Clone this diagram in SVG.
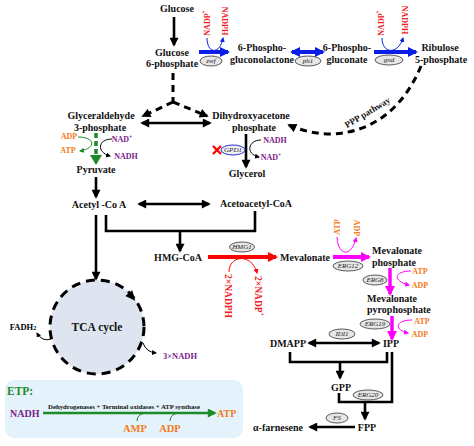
<svg xmlns="http://www.w3.org/2000/svg" width="474" height="446" viewBox="0 0 474 446">
<style>
.t{font-family:"Liberation Serif","Times New Roman",serif;font-weight:bold;font-size:10px;fill:#111;text-anchor:middle}
.ts{font-family:"Liberation Serif","Times New Roman",serif;font-weight:bold;font-size:10px;fill:#111;text-anchor:start}
.c{font-family:"Liberation Serif","Times New Roman",serif;font-weight:bold;font-size:8px;text-anchor:middle}
.rv{dominant-baseline:central}
.red{fill:#ee1c25}.or{fill:#f47a20}.pu{fill:#7b1c8c}.gr{fill:#1e8a2a}
.ell{fill:#e6e6e6;stroke:#333;stroke-width:0.8}
.et{font-family:"Liberation Serif","Times New Roman",serif;font-style:italic;font-size:7px;fill:#222;text-anchor:middle}
.k{stroke:#000;stroke-width:2.6;fill:none}
.kd{stroke:#000;stroke-width:3;fill:none;stroke-dasharray:7,5}
.thin{stroke-width:1;fill:none}
</style>
<defs>
<marker id="ak" viewBox="0 0 10 10" refX="8" refY="5" markerWidth="10" markerHeight="9" markerUnits="userSpaceOnUse" orient="auto-start-reverse"><path d="M0,0 L10,5 L0,10 z" fill="#000"/></marker>
<marker id="ab" viewBox="0 0 10 10" refX="8" refY="5" markerWidth="11" markerHeight="10" markerUnits="userSpaceOnUse" orient="auto-start-reverse"><path d="M0,0 L10,5 L0,10 z" fill="#0a1ee6"/></marker>
<marker id="ar" viewBox="0 0 10 10" refX="8" refY="5" markerWidth="11" markerHeight="10" markerUnits="userSpaceOnUse" orient="auto"><path d="M0,0 L10,5 L0,10 z" fill="#ff0000"/></marker>
<marker id="am" viewBox="0 0 10 10" refX="8" refY="5" markerWidth="11" markerHeight="10" markerUnits="userSpaceOnUse" orient="auto"><path d="M0,0 L10,5 L0,10 z" fill="#ff00ff"/></marker>
<marker id="ag" viewBox="0 0 10 10" refX="8" refY="5" markerWidth="10" markerHeight="9" markerUnits="userSpaceOnUse" orient="auto"><path d="M0,0 L10,5 L0,10 z" fill="#1e8a2a"/></marker>
<marker id="sk" viewBox="0 0 10 10" refX="8" refY="5" markerWidth="5" markerHeight="5" markerUnits="userSpaceOnUse" orient="auto"><path d="M0,0 L10,5 L0,10 z" fill="#000"/></marker>
<marker id="sb" viewBox="0 0 10 10" refX="8" refY="5" markerWidth="5" markerHeight="5" markerUnits="userSpaceOnUse" orient="auto"><path d="M0,0 L10,5 L0,10 z" fill="#0a1ee6"/></marker>
<marker id="sr" viewBox="0 0 10 10" refX="8" refY="5" markerWidth="5" markerHeight="5" markerUnits="userSpaceOnUse" orient="auto"><path d="M0,0 L10,5 L0,10 z" fill="#ff0000"/></marker>
<marker id="sm" viewBox="0 0 10 10" refX="8" refY="5" markerWidth="5" markerHeight="5" markerUnits="userSpaceOnUse" orient="auto"><path d="M0,0 L10,5 L0,10 z" fill="#ff00ff"/></marker>
<marker id="sg" viewBox="0 0 10 10" refX="8" refY="5" markerWidth="5" markerHeight="5" markerUnits="userSpaceOnUse" orient="auto"><path d="M0,0 L10,5 L0,10 z" fill="#1e8a2a"/></marker>
</defs>

<!-- ETP box background -->
<rect x="5" y="380" width="238" height="58" rx="9" fill="#e4f2fb"/>

<!-- TCA circle -->
<g id="tca">
<circle cx="97" cy="327" r="47" fill="#dfe5f0" stroke="#000" stroke-width="3" stroke-dasharray="9,6"/>
<polygon points="-5,-4.5 5,0 -5,4.5" fill="#000" transform="translate(132,297) rotate(50)"/>
<text class="t" x="97" y="331" style="font-size:11.5px">TCA cycle</text>
</g>

<g id="connectors">
<!-- glucose -->
<line class="k" x1="174" y1="17" x2="174" y2="45" marker-end="url(#ak)"/>
<!-- PPP blue -->
<line x1="199" y1="52" x2="228" y2="52" stroke="#0a1ee6" stroke-width="4" marker-end="url(#ab)"/>
<path d="M207,38 C207,54 220,55 223,38" stroke="#0a1ee6" class="thin" marker-end="url(#sb)"/>
<line x1="292" y1="52" x2="323" y2="52" stroke="#0a1ee6" stroke-width="4" marker-start="url(#ab)" marker-end="url(#ab)"/>
<line x1="374" y1="52" x2="416" y2="52" stroke="#0a1ee6" stroke-width="4" marker-end="url(#ab)"/>
<path d="M382,38 C382,54 398,55 403,38" stroke="#0a1ee6" class="thin" marker-end="url(#sb)"/>
<!-- PPP pathway dashed -->
<path class="kd" d="M421,66 C405,105 375,133 330,134 C315,134 300,130 289,125" marker-end="url(#ak)"/>
<!-- glycolysis split -->
<path class="kd" d="M173,73 V102"/>
<path class="kd" d="M173,102 L143,116" marker-end="url(#ak)"/>
<path class="kd" d="M173,102 L207,116" marker-end="url(#ak)"/>
<line class="k" x1="142" y1="123" x2="210" y2="123" marker-start="url(#ak)" marker-end="url(#ak)"/>
<!-- G3P to pyruvate green -->
<line x1="96" y1="133" x2="96" y2="156" stroke="#1e8a2a" stroke-width="3.5" stroke-dasharray="5,3"/>
<polygon points="90,155 102,155 96,165" fill="#1e8a2a"/>
<path d="M78,137 C95,137 97,148 80,151" stroke="#1e8a2a" class="thin" marker-end="url(#sg)"/>
<path d="M112,139 C98,139 96,152 110,156" stroke="#000" class="thin" marker-end="url(#sk)"/>
<!-- pyruvate to acetyl -->
<line class="k" x1="96" y1="177" x2="96" y2="197" marker-end="url(#ak)"/>
<line class="k" x1="139" y1="204" x2="209" y2="204" marker-start="url(#ak)" marker-end="url(#ak)"/>
<!-- DHAP to glycerol -->
<line class="k" x1="246" y1="134" x2="246" y2="167" marker-end="url(#ak)"/>
<path d="M261,140 C248,140 245,154 259,157" stroke="#000" class="thin" marker-end="url(#sk)"/>
<!-- acetyl to TCA / HMG -->
<line class="k" x1="96" y1="215" x2="96" y2="279" marker-end="url(#ak)"/>
<path class="k" d="M106,215 V231 H255 V211"/>
<line class="k" x1="180" y1="231" x2="180" y2="251" marker-end="url(#ak)"/>
<!-- TCA small arrows -->
<path d="M51,339 Q42,342 37,333" stroke="#000" class="thin" marker-end="url(#sk)"/>
<path d="M143,343 Q146,352 156,353" stroke="#000" class="thin" marker-end="url(#sk)"/>
<!-- HMG red -->
<line x1="208" y1="257" x2="276" y2="257" stroke="#ff0000" stroke-width="4" marker-end="url(#ar)"/>
<path d="M229,272 C229,255 252,253 257,273" stroke="#ff0000" class="thin" marker-end="url(#sr)"/>
<!-- mevalonate magenta -->
<line x1="333" y1="257" x2="369" y2="257" stroke="#ff00ff" stroke-width="4" marker-end="url(#am)"/>
<path d="M337,237 C338,257 352,257 356,238" stroke="#ff00ff" class="thin" marker-end="url(#sm)"/>
<line x1="390" y1="268" x2="390" y2="294" stroke="#ff00ff" stroke-width="3.5" marker-end="url(#am)"/>
<path d="M411,271 C394,271 392,281 409,285" stroke="#ff00ff" class="thin" marker-end="url(#sm)"/>
<line x1="392" y1="316" x2="392" y2="339" stroke="#ff00ff" stroke-width="3.5" marker-end="url(#am)"/>
<path d="M412,320 C395,320 394,330 408,333" stroke="#ff00ff" class="thin" marker-end="url(#sm)"/>
<!-- isoprenoid -->
<line class="k" x1="309" y1="343" x2="379" y2="343" marker-start="url(#ak)" marker-end="url(#ak)"/>
<path class="k" d="M290,352 V362 H387 V352"/>
<line class="k" x1="340" y1="362" x2="340" y2="378" marker-end="url(#ak)"/>
<path class="k" d="M339,393 V402 H392 V352"/>
<line class="k" x1="365" y1="402" x2="365" y2="419" marker-end="url(#ak)"/>
<line class="k" x1="355" y1="427" x2="310" y2="427" marker-end="url(#ak)"/>
<!-- ETP -->
<line x1="43" y1="413" x2="215" y2="413" stroke="#1e8a2a" stroke-width="2.5" marker-end="url(#ag)"/>
<path d="M137,421 Q137,414 146,413" stroke="#1e8a2a" class="thin"/>
<path d="M170,421 Q170,414 179,413" stroke="#1e8a2a" class="thin"/>
</g>

<g id="n-glucose"><text class="t" x="177" y="12">Glucose</text></g>
<g id="n-g6p"><text class="t" x="172" y="56">Glucose</text><text class="t" x="172" y="67">6-phosphate</text></g>
<g id="e-zwf"><ellipse class="ell" cx="211" cy="61" rx="11" ry="5"/><text class="et" x="211" y="63.4">zwf</text>
<text class="c red rv" transform="translate(207,23) rotate(-90)">NADP<tspan dy="-3" font-size="5.5">+</tspan></text>
<text class="c red rv" transform="translate(224,21) rotate(90)">NADPH</text></g>
<g id="n-6pgl"><text class="t" x="262" y="51">6-Phospho-</text><text class="t" x="262" y="63">gluconolactone</text></g>
<g id="e-ph1"><ellipse class="ell" cx="308" cy="61" rx="13" ry="5"/><text class="et" x="308" y="63.4">ph1</text></g>
<g id="n-6pg"><text class="t" x="347" y="51">6-Phospho-</text><text class="t" x="347" y="63">gluconate</text></g>
<g id="e-gnd"><ellipse class="ell" cx="389" cy="60" rx="14" ry="5"/><text class="et" x="389" y="62.4">gnd</text>
<text class="c red rv" transform="translate(381,23) rotate(-90)">NADP<tspan dy="-3" font-size="5.5">+</tspan></text>
<text class="c red rv" transform="translate(404,20) rotate(90)">NADPH</text></g>
<g id="n-ru5p"><text class="t" x="440" y="51">Ribulose</text><text class="t" x="441" y="63">5-phosphate</text></g>
<g id="l-ppp"><text class="t" transform="translate(369,115) rotate(-31)" style="font-size:9px">PPP pathway</text></g>

<g id="n-g3p"><text class="t" x="101" y="119">Glyceraldehyde</text><text class="t" x="100" y="131">3-phosphate</text>
<text class="c or" x="69" y="139">ADP</text><text class="c or" x="68" y="153">ATP</text>
<text class="c pu" x="122" y="142">NAD<tspan dy="-3" font-size="5.5">+</tspan></text><text class="c pu" x="126" y="159">NADH</text></g>
<g id="n-dhap"><text class="t" x="251" y="119">Dihydroxyacetone</text><text class="t" x="254" y="131">phosphate</text></g>
<g id="e-gpd1"><ellipse cx="233" cy="150" rx="12" ry="5" fill="#eef0fb" stroke="#2a2ad0" stroke-width="1"/><text class="et" x="233" y="152.4">GPD1</text>
<path d="M213,146 L221,154 M221,146 L213,154" stroke="#ff0000" stroke-width="2.4"/>
<text class="c pu" x="275" y="143">NADH</text><text class="c pu" x="271" y="160">NAD<tspan dy="-3" font-size="5.5">+</tspan></text></g>
<g id="n-glycerol"><text class="t" x="247" y="177">Glycerol</text></g>
<g id="n-pyruvate"><text class="t" x="96" y="173">Pyruvate</text></g>
<g id="n-acetyl"><text class="t" x="99" y="208">Acetyl -Co A</text></g>
<g id="n-acetoacetyl"><text class="t" x="256" y="207">Acetoacetyl-CoA</text></g>
<g id="n-fadh2"><text class="c" x="23" y="330" style="font-size:8.5px">FADH<tspan font-size="6">2</tspan></text></g>
<g id="n-nadh3"><text class="c pu" x="180" y="359" style="font-size:8.5px">3×NADH</text></g>
<g id="n-hmgcoa"><text class="t" x="178" y="261">HMG-CoA</text></g>
<g id="e-hmg1"><ellipse class="ell" cx="242" cy="247" rx="12.5" ry="5"/><text class="et" x="242" y="249.4">HMG1</text>
<text class="c red rv" transform="translate(228,296) rotate(90)" style="font-size:9.5px">2×NADPH</text>
<text class="c red rv" transform="translate(258,296) rotate(90)" style="font-size:9.5px">2×NADP<tspan dy="-3.5" font-size="6">+</tspan></text></g>
<g id="n-mev"><text class="t" x="305" y="261">Mevalonate</text></g>
<g id="e-erg12"><ellipse class="ell" cx="348" cy="266" rx="15" ry="5"/><text class="et" x="348" y="268.4">ERG12</text>
<text class="c or rv" transform="translate(337,227) rotate(-90)">ATP</text>
<text class="c or rv" transform="translate(356,228) rotate(90)">ADP</text></g>
<g id="n-mevp"><text class="ts" x="372" y="254">Mevalonate</text><text class="ts" x="372" y="266">phosphate</text></g>
<g id="e-erg8"><ellipse class="ell" cx="375" cy="280" rx="12" ry="5"/><text class="et" x="375" y="282.4">ERG8</text>
<text class="c or" x="420" y="274">ATP</text><text class="c or" x="420" y="288">ADP</text></g>
<g id="n-mevpp"><text class="ts" x="367" y="302">Mevalonate</text><text class="ts" x="367" y="313">pyrophosphate</text></g>
<g id="e-erg19"><ellipse class="ell" cx="375" cy="324" rx="15" ry="5"/><text class="et" x="375" y="326.4">ERG19</text>
<text class="c or" x="422" y="323.5">ATP</text><text class="c or" x="420" y="337">ADP</text></g>
<g id="n-ipp"><text class="t" x="391" y="347">IPP</text></g>
<g id="n-dmapp"><text class="t" x="288" y="347">DMAPP</text></g>
<g id="e-idi1"><ellipse class="ell" cx="342" cy="334" rx="13" ry="5"/><text class="et" x="342" y="336.4">IDI1</text></g>
<g id="n-gpp"><text class="t" x="341" y="391">GPP</text></g>
<g id="e-erg20"><ellipse class="ell" cx="368" cy="395" rx="15" ry="5"/><text class="et" x="368" y="397.4">ERG20</text></g>
<g id="n-fpp"><text class="t" x="367" y="431">FPP</text></g>
<g id="e-fs"><ellipse class="ell" cx="337" cy="418" rx="11" ry="5"/><text class="et" x="337" y="420.4">FS</text></g>
<g id="n-farnesene"><text class="t" x="278" y="431">α-farnesene</text></g>

<g id="etp">
<text class="ts gr" x="7" y="395" style="font-size:11.5px">ETP:</text>
<text class="ts pu" x="10" y="417">NADH</text>
<text class="t" x="124" y="409" style="font-size:6.3px" textLength="152" lengthAdjust="spacingAndGlyphs">Dehydrogenases + Terminal oxidases + ATP synthase</text>
<text class="ts or" x="217" y="417">ATP</text>
<text class="t or" x="135" y="432" style="font-size:10.5px">AMP</text>
<text class="t or" x="170" y="432" style="font-size:10.5px">ADP</text>
</g>
</svg>
